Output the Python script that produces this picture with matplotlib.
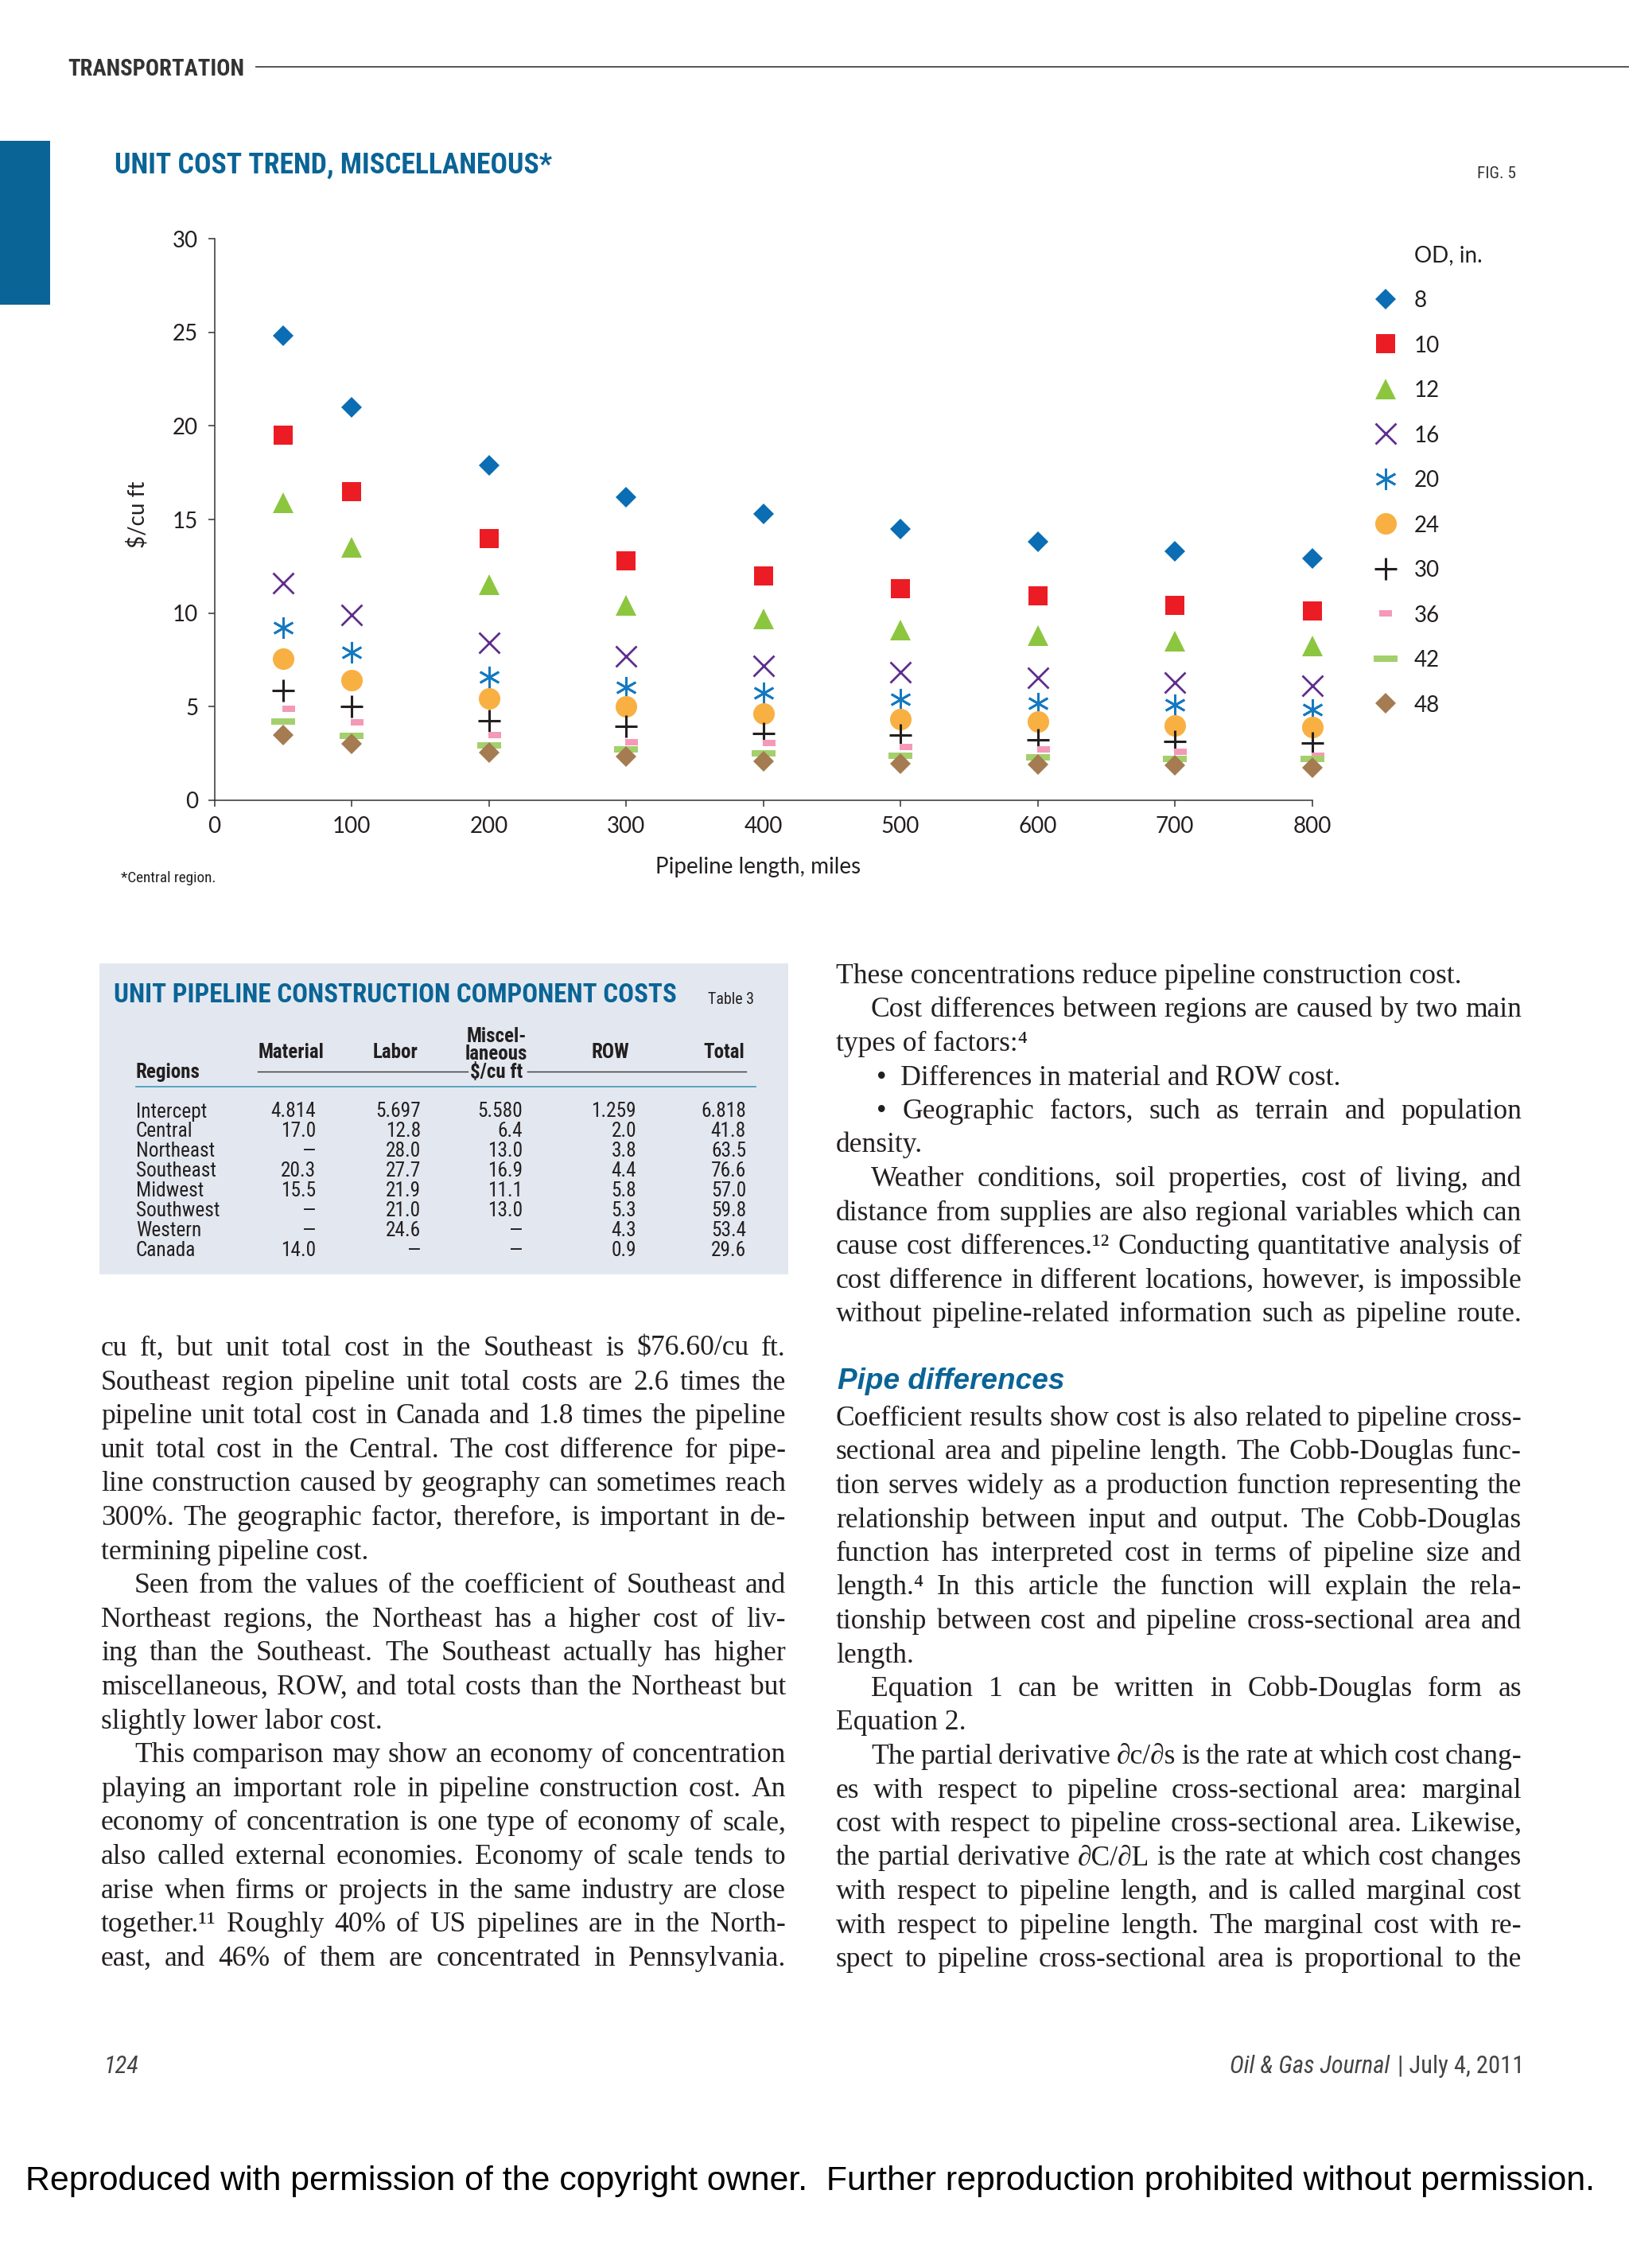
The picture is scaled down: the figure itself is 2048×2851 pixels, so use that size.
import matplotlib
matplotlib.use("Agg")
import matplotlib.pyplot as plt
from matplotlib import font_manager as fm
from matplotlib.lines import Line2D
from matplotlib.patches import Rectangle
from matplotlib.path import Path

W, H = 2048, 2851

# ---- chart data (Fig. 5) ----
lengths = [50, 100, 200, 300, 400, 500, 600, 700, 800]
od_sizes = ["8", "10", "12", "16", "20", "24", "30", "36", "42", "48"]
cost_8 = [24.8, 21.0, 17.9, 16.2, 15.3, 14.5, 13.8, 13.3, 12.9]
cost_10 = [19.5, 16.5, 14.0, 12.8, 12.0, 11.3, 10.9, 10.4, 10.1]
cost_12 = [15.9, 13.5, 11.5, 10.4, 9.7, 9.1, 8.8, 8.5, 8.25]
cost_16 = [11.6, 9.9, 8.4, 7.7, 7.2, 6.85, 6.55, 6.3, 6.1]
cost_20 = [9.2, 7.9, 6.6, 6.05, 5.75, 5.4, 5.2, 5.1, 4.85]
cost_24 = [7.55, 6.4, 5.45, 5.0, 4.65, 4.35, 4.2, 4.0, 3.9]
cost_30 = [5.85, 5.0, 4.25, 3.95, 3.55, 3.5, 3.25, 3.15, 3.05]
cost_36 = [4.9, 4.15, 3.5, 3.1, 3.05, 2.85, 2.7, 2.6, 2.4]
cost_42 = [4.2, 3.45, 2.95, 2.7, 2.5, 2.4, 2.3, 2.2, 2.2]
cost_48 = [3.5, 3.0, 2.55, 2.35, 2.1, 1.95, 1.9, 1.85, 1.75]
series = [cost_8, cost_10, cost_12, cost_16, cost_20, cost_24, cost_30,
          cost_36, cost_42, cost_48]

# ---- Table 3 ----
regions = ["Intercept", "Central", "Northeast", "Southeast", "Midwest",
           "Southwest", "Western", "Canada"]
material = ["4.814", "17.0", "—", "20.3", "15.5", "—", "—", "14.0"]
labor = ["5.697", "12.8", "28.0", "27.7", "21.9", "21.0", "24.6", "—"]
misc = ["5.580", "6.4", "13.0", "16.9", "11.1", "13.0", "—", "—"]
row_cost = ["1.259", "2.0", "3.8", "4.4", "5.8", "5.3", "4.3", "0.9"]
total = ["6.818", "41.8", "63.5", "76.6", "57.0", "59.8", "53.4", "29.6"]

# ---- body text: (indent, justified, text) ----
left_lines = [
    (0, True, r"cu ft, but unit total cost in the Southeast is \$76.60/cu ft."),
    (0, True, "Southeast region pipeline unit total costs are 2.6 times the"),
    (0, True, "pipeline unit total cost in Canada and 1.8 times the pipeline"),
    (0, True, "unit total cost in the Central. The cost difference for pipe-"),
    (0, True, "line construction caused by geography can sometimes reach"),
    (0, True, "300%. The geographic factor, therefore, is important in de-"),
    (0, False, "termining pipeline cost."),
    (42, True, "Seen from the values of the coefficient of Southeast and"),
    (0, True, "Northeast regions, the Northeast has a higher cost of liv-"),
    (0, True, "ing than the Southeast. The Southeast actually has higher"),
    (0, True, "miscellaneous, ROW, and total costs than the Northeast but"),
    (0, False, "slightly lower labor cost."),
    (42, True, "This comparison may show an economy of concentration"),
    (0, True, "playing an important role in pipeline construction cost. An"),
    (0, True, "economy of concentration is one type of economy of scale,"),
    (0, True, "also called external economies. Economy of scale tends to"),
    (0, True, "arise when firms or projects in the same industry are close"),
    (0, True, "together.¹¹ Roughly 40% of US pipelines are in the North-"),
    (0, True, "east, and 46% of them are concentrated in Pennsylvania."),
]
right_lines_a = [
    (0, False, "These concentrations reduce pipeline construction cost."),
    (44, True, "Cost differences between regions are caused by two main"),
    (0, False, "types of factors:⁴"),
    (51, False, "•  Differences in material and ROW cost."),
    (51, True, "•  Geographic factors, such as terrain and population"),
    (0, False, "density."),
    (44, True, "Weather conditions, soil properties, cost of living, and"),
    (0, True, "distance from supplies are also regional variables which can"),
    (0, True, "cause cost differences.¹² Conducting quantitative analysis of"),
    (0, True, "cost difference in different locations, however, is impossible"),
    (0, True, "without pipeline-related information such as pipeline route."),
]
right_lines_b = [
    (0, True, "Coefficient results show cost is also related to pipeline cross-"),
    (0, True, "sectional area and pipeline length. The Cobb-Douglas func-"),
    (0, True, "tion serves widely as a production function representing the"),
    (0, True, "relationship between input and output.  The Cobb-Douglas"),
    (0, True, "function has interpreted cost in terms of pipeline size and"),
    (0, True, "length.⁴ In this article the function will explain the rela-"),
    (0, True, "tionship between cost and pipeline cross-sectional area and"),
    (0, False, "length."),
    (44, True, "Equation 1 can be written in Cobb-Douglas form as"),
    (0, False, "Equation 2."),
    (44, True, "The partial derivative ∂c/∂s is the rate at which cost chang-"),
    (0, True, "es with respect to pipeline cross-sectional area: marginal"),
    (0, True, "cost with respect to pipeline cross-sectional area. Likewise,"),
    (0, True, "the partial derivative ∂C/∂L  is the rate at which cost changes"),
    (0, True, "with respect to pipeline length, and is called marginal cost"),
    (0, True, "with respect to pipeline length. The marginal cost with re-"),
    (0, True, "spect to pipeline cross-sectional area is proportional to the"),
]


# pick a condensed sans if the machine has one, else plain sans fitted by width
def narrow_font():
    entries = fm.fontManager.ttflist
    names = {e.name for e in entries}
    for name in ["Liberation Sans Narrow", "DejaVu Sans Condensed",
                 "Roboto Condensed", "Open Sans Condensed",
                 "Noto Sans Condensed", "Arial Narrow"]:
        if name in names:
            return dict(family=[name, "DejaVu Sans"])
    for name in ["DejaVu Sans", "Noto Sans", "Open Sans", "Liberation Sans"]:
        for e in entries:
            if e.name == name and str(e.stretch) in (
                    "condensed", "semi-condensed", "extra-condensed"):
                return dict(family=[name], fontstretch=str(e.stretch))
    return dict(family=["Liberation Sans", "DejaVu Sans"])


NARROW = narrow_font()
SANS = ["Liberation Sans", "DejaVu Sans"]
SERIF = ["Liberation Serif", "DejaVu Serif"]
CHART = ["Lato", "DejaVu Sans"]
BLUE = "#0a6496"
INK = "#231f20"

fig = plt.figure(figsize=(W / 100, H / 100), dpi=100)
fig.patch.set_facecolor("white")
renderer = fig.canvas.get_renderer()


def fx(x):
    return x / W


def fy(y):
    return 1 - y / H


def put(x, y, s, **kw):
    return fig.text(fx(x), fy(y), s, **kw)


def width_of(t):
    return t.get_window_extent(renderer).width


def fit(x, y, s, width, maxsize=60, **kw):
    """Text whose font size is chosen so it spans `width` pixels."""
    t = put(x, y, s, fontsize=20, **kw)
    t.set_fontsize(min(maxsize, 20 * width / width_of(t)))
    return t


def size_for(s, width, **kw):
    t = put(0, 0, s, fontsize=20, **kw)
    size = 20 * width / width_of(t)
    t.remove()
    return size


def hline(x0, x1, y, **kw):
    fig.add_artist(Line2D([fx(x0), fx(x1)], [fy(y), fy(y)],
                          transform=fig.transFigure, **kw))


def text_line(x0, x1, y, s, justify, **kw):
    words = s.split()
    if not justify or len(words) < 2:
        put(x0, y, s, **kw)
        return
    arts = [put(0, y, w, **kw) for w in words]
    widths = [width_of(a) for a in arts]
    gap = (x1 - x0 - sum(widths)) / (len(words) - 1)
    x = x0
    for a, w in zip(arts, widths):
        a.set_x(fx(x))
        x += w + gap


def column(x0, x1, y0, step, lines):
    for i, (ind, just, s) in enumerate(lines):
        text_line(x0 + ind, x1, y0 + i * step + 11, s, just,
                  family=SERIF, fontsize=25.6, color=INK, va="baseline")


# ---- page header ----
fit(85, 84, "TRANSPORTATION", 222, maxsize=26, weight="bold",
    color="#333333", va="center_baseline", **NARROW)
hline(322, 2048, 84, color="#555555", lw=1.4)
fig.add_artist(Rectangle((0, fy(383)), fx(63), (383 - 177) / H,
                         transform=fig.transFigure, color=BLUE, lw=0))
fit(144, 204, "UNIT COST TREND, MISCELLANEOUS*", 551, maxsize=34,
    weight="bold", color=BLUE, va="center_baseline", **NARROW)
fit(1857, 217, "FIG. 5", 49, maxsize=20, color="#333333",
    va="center_baseline", **NARROW)

# ---- chart ----
PINK_BAR = Path([(-0.05, -0.27), (1, -0.27), (1, 0.27), (-0.05, 0.27),
                 (-0.05, -0.27)],
                [Path.MOVETO, Path.LINETO, Path.LINETO, Path.LINETO,
                 Path.CLOSEPOLY])
FLAT_BAR = Path([(-1, -0.27), (1, -0.27), (1, 0.27), (-1, 0.27), (-1, -0.27)],
                [Path.MOVETO, Path.LINETO, Path.LINETO, Path.LINETO,
                 Path.CLOSEPOLY])
styles = [
    dict(marker="D", markersize=13.5, markeredgewidth=0, color="#0b6db3"),
    dict(marker="s", markersize=17.5, markeredgewidth=0, color="#ec1c24"),
    dict(marker="^", markersize=19, markeredgewidth=0, color="#8cc63f"),
    dict(marker="x", markersize=18.5, markeredgewidth=2.0, color="#5f2d8c"),
    dict(marker=(6, 2, 0), markersize=19.5, markeredgewidth=2.0,
         color="#1479c0"),
    dict(marker="o", markersize=19.5, markeredgewidth=0, color="#f9b043"),
    dict(marker="+", markersize=20, markeredgewidth=2.2, color=INK),
    dict(marker=PINK_BAR, markersize=21, markeredgewidth=0, color="#f49ab6"),
    dict(marker=FLAT_BAR, markersize=21, markeredgewidth=0, color="#a3d06c"),
    dict(marker="D", markersize=13.5, markeredgewidth=0, color="#a57b51"),
]

ax = fig.add_axes([fx(269.5), fy(1006), 1380 / W, 706 / H])
for vals, st in zip(series, styles):
    ax.plot(lengths, vals, linestyle="none", clip_on=False, **st)
ax.set_xlim(0, 800)
ax.set_ylim(0, 30)
ax.set_xticks(range(0, 801, 100))
ax.set_yticks(range(0, 31, 5))
ax.spines[["top", "right"]].set_visible(False)
for sp in ("left", "bottom"):
    ax.spines[sp].set_color("#333333")
    ax.spines[sp].set_linewidth(1.1)
ax.tick_params(direction="out", length=5.5, width=1.1, pad=9,
               labelsize=20, colors="#333333", labelcolor=INK)
for lab in ax.get_xticklabels() + ax.get_yticklabels():
    lab.set_family(CHART)
ax.patch.set_visible(False)

put(173, 647, r"\$/cu ft", family=CHART, fontsize=20, color=INK,
    rotation=90, ha="center", va="center")
put(953, 1090, "Pipeline length, miles", family=CHART, fontsize=20,
    color=INK, ha="center", va="center")
fit(152, 1102, "*Central region.", 120, maxsize=16, color=INK,
    va="center_baseline", **NARROW)

# legend
put(1778, 319, "OD, in.", family=CHART, fontsize=20, color=INK,
    va="center_baseline")
PINK_KEY = Path([(-1, -0.5), (1, -0.5), (1, 0.5), (-1, 0.5), (-1, -0.5)],
                [Path.MOVETO, Path.LINETO, Path.LINETO, Path.LINETO,
                 Path.CLOSEPOLY])
for i, (lab, st) in enumerate(zip(od_sizes, styles)):
    y = 375.6 + i * 56.5
    key = dict(st)
    if key["marker"] is PINK_BAR:
        key.update(marker=PINK_KEY, markersize=11.2)
    fig.add_artist(Line2D([fx(1742)], [fy(y)], transform=fig.transFigure,
                          linestyle="none", **key))
    put(1778, y, lab, family=CHART, fontsize=20, color=INK,
        va="center_baseline")

# ---- Table 3 ----
fig.add_artist(Rectangle((fx(125), fy(1602)), 866 / W, (1602 - 1211) / H,
                         transform=fig.transFigure, color="#e3e8f0", lw=0,
                         zorder=0))
fit(143, 1248, "UNIT PIPELINE CONSTRUCTION COMPONENT COSTS", 707,
    maxsize=28, weight="bold", color=BLUE, va="center_baseline", **NARROW)
fit(948, 1254, "Table 3", 58, maxsize=17, color=INK, ha="right",
    va="center_baseline", **NARROW)

hsize = min(18, size_for("Material", 83, weight="bold", **NARROW))
hdr = dict(weight="bold", fontsize=hsize, color=INK, ha="center",
           va="center_baseline", **NARROW)
put(366, 1321, "Material", **hdr)
put(497, 1321, "Labor", **hdr)
put(624, 1301, "Miscel-", **hdr)
put(624, 1322, "laneous", **hdr)
put(624, 1345, r"\$/cu ft", **hdr)
put(767, 1321, "ROW", **hdr)
put(910, 1321, "Total", **hdr)
put(171, 1345, "Regions", **dict(hdr, ha="left"))
hline(324, 588, 1347, color="#333333", lw=1.0)
hline(663, 938, 1347, color="#333333", lw=1.0)
hline(171, 950, 1366, color="#3f9bb8", lw=1.2)

csize = min(20, size_for("Southwest", 105, **NARROW))
cell = dict(fontsize=csize, color=INK, va="center_baseline", **NARROW)
for i, reg in enumerate(regions):
    y = 1395 + i * 24.9
    put(171, y, reg, **cell)
    for xr, col in zip([397, 529, 657, 800, 938],
                       [material, labor, misc, row_cost, total]):
        put(xr, y, col[i], ha="right", **cell)

# ---- body text ----
column(127, 988, 1693, 42.6, left_lines)
column(1051, 1913, 1225, 42.5, right_lines_a)
fit(1053, 1732, "Pipe differences", 285, maxsize=30, family=SANS,
    weight="bold", style="italic", color=BLUE, va="center_baseline")
column(1051, 1913, 1781, 42.5, right_lines_b)

# ---- footer ----
fit(130, 2594, "124", 46, maxsize=22, style="italic", color="#444444",
    va="center_baseline", **NARROW)
fit(1916, 2594, "| July 4, 2011", 160, maxsize=22, color="#444444",
    ha="right", va="center_baseline", **NARROW)
fit(1747, 2594, "Oil & Gas Journal", 217, maxsize=22, style="italic",
    color="#444444", ha="right", va="center_baseline", **NARROW)
fit(1018, 2738, "Reproduced with permission of the copyright owner.  "
    "Further reproduction prohibited without permission.", 1971,
    maxsize=34, family=SANS, color="black", ha="center",
    va="center_baseline")

fig.savefig("out.png", dpi=100)
